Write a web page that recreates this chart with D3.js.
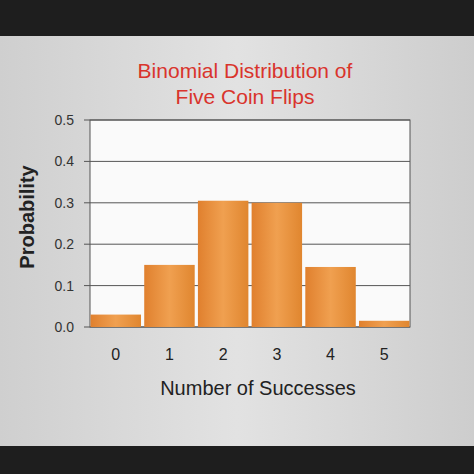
<!DOCTYPE html>
<html><head><meta charset="utf-8">
<script src="https://cdn.jsdelivr.net/npm/d3@7"></script>
<style>body{margin:0;background:#222}</style></head>
<body><svg id="c" width="474" height="474"></svg>
<script>
const categories = ["0","1","2","3","4","5"];
const values = [0.03, 0.15, 0.305, 0.30, 0.145, 0.015];
const yTicks = [0.0, 0.1, 0.2, 0.3, 0.4, 0.5];

const svg = d3.select("#c");
const defs = svg.append("defs");
const bg = defs.append("linearGradient").attr("id","bg").attr("x1",0).attr("x2",1);
bg.append("stop").attr("offset","0").attr("stop-color","#cfcfcf");
bg.append("stop").attr("offset","0.5").attr("stop-color","#e2e2e2");
bg.append("stop").attr("offset","1").attr("stop-color","#cdcdcd");
const bar = defs.append("linearGradient").attr("id","bar").attr("x1",0).attr("x2",1);
bar.append("stop").attr("offset","0").attr("stop-color","#e0802e");
bar.append("stop").attr("offset","0.5").attr("stop-color","#f0a050");
bar.append("stop").attr("offset","1").attr("stop-color","#e0862f");

svg.append("rect").attr("x",0).attr("y",0).attr("width",474).attr("height",474).attr("fill","#1e1e1e");
svg.append("rect").attr("x",0).attr("y",36).attr("width",474).attr("height",410).attr("fill","url(#bg)");

const m = {l:90, r:410, t:120, b:327};
const x = d3.scaleBand().domain(categories).range([m.l, m.r]).paddingInner(0.06).paddingOuter(0.01);
const y = d3.scaleLinear().domain([0,0.5]).range([m.b, m.t]);

svg.append("rect").attr("x",m.l).attr("y",m.t).attr("width",m.r-m.l).attr("height",m.b-m.t)
  .attr("fill","#fafafa").attr("stroke","#555");
svg.append("g").selectAll("line").data(yTicks).join("line")
  .attr("x1",m.l-6).attr("x2",m.r).attr("y1",d=>y(d)).attr("y2",d=>y(d))
  .attr("stroke","#555").attr("stroke-width",1);
svg.append("g").selectAll("rect").data(values).join("rect")
  .attr("x",(d,i)=>x(categories[i])).attr("width",x.bandwidth())
  .attr("y",d=>y(d)).attr("height",d=>y(0)-y(d)).attr("fill","url(#bar)");

const font = "Liberation Sans, Arial, sans-serif";
svg.append("g").selectAll("text").data(yTicks).join("text")
  .attr("x",m.l-16).attr("y",d=>y(d)+5).attr("text-anchor","end")
  .attr("font-family",font).attr("font-size",14).attr("fill","#333")
  .text(d=>d.toFixed(1));
svg.append("g").selectAll("text").data(categories).join("text")
  .attr("x",d=>x(d)+x.bandwidth()/2).attr("y",360).attr("text-anchor","middle")
  .attr("font-family",font).attr("font-size",16).attr("fill","#222").text(d=>d);
svg.append("text").attr("x",258).attr("y",395).attr("text-anchor","middle")
  .attr("font-family",font).attr("font-size",20).attr("fill","#222").text("Number of Successes");
svg.append("text").attr("transform","translate(34,217) rotate(-90)").attr("text-anchor","middle")
  .attr("font-family",font).attr("font-weight","bold").attr("font-size",20).attr("fill","#222").text("Probability");
svg.append("text").attr("x",245).attr("y",78).attr("text-anchor","middle")
  .attr("font-family",font).attr("font-size",21).attr("fill","#d9342c").text("Binomial Distribution of");
svg.append("text").attr("x",245).attr("y",104).attr("text-anchor","middle")
  .attr("font-family",font).attr("font-size",21).attr("fill","#d9342c").text("Five Coin Flips");
</script></body></html>
